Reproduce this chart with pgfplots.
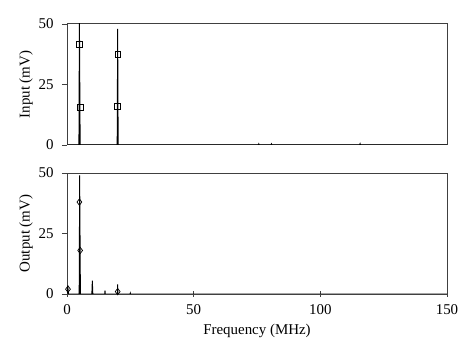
\documentclass[border=0pt]{standalone}
\usepackage{pgfplots}
\pgfplotsset{compat=1.18}
\usepackage{fontspec}
\setmainfont{Liberation Serif}
\begin{document}
\begin{tikzpicture}
\useasboundingbox (0bp,0bp) rectangle (474bp,361bp);
\pgfplotsset{
  myaxis/.style={
    scale only axis, width=380bp, height=121bp,
    xmin=0, xmax=150, ymin=0, ymax=50,
    ytick={0,25,50},
    axis line style={draw=black!75, line width=1pt},
    tick style={draw=black!75, line width=0.8pt},
    ytick align=outside, xtick align=center,
    xtick pos=bottom, ytick pos=left,
    major tick length=5bp,
    font=\fontsize{15}{17}\selectfont,
    /pgf/number format/assume math mode=true,
    yticklabel style={xshift=-5bp},
    xticklabel style={yshift=-5bp},
    ylabel style={at={(ticklabel cs:0.5)}, anchor=south, yshift=-1bp},
    clip=true,
  }
}
\begin{axis}[myaxis, at={(67bp,216bp)}, anchor=south west,
  xtick=\empty, ylabel={Input (mV)}]
\addplot[black, line width=0.9pt, mark=none] coordinates {
(0,0) (4.7,0) (4.9,53) (5.2,0) (19.8,0) (20,48) (20.2,0)
(75.5,0) (75.7,0.5) (75.9,0) (80.5,0) (80.7,0.5) (80.9,0)
(115.5,0) (115.7,0.6) (115.9,0) (150,0)};
\addplot[black, only marks, mark=square, mark size=2.8bp, mark options={fill=white, line width=0.7pt}] coordinates {
(4.9,41.5) (5.2,15.5) (20,37.5) (19.9,16)};
\end{axis}
\begin{axis}[myaxis, at={(67bp,67bp)}, anchor=south west,
  xtick={0,50,100,150}, ylabel={Output (mV)}, xlabel={Frequency (MHz)},
  xlabel style={yshift=-2bp}]
\addplot[black, line width=0.9pt, mark=none] coordinates {
(0,0) (0.3,3.5) (0.6,0) (4.8,0) (5,49) (5.3,0) (9.8,0) (10,5.5) (10.2,0)
(14.9,0) (15,1.5) (15.1,0) (19.9,0) (20,4) (20.1,0) (24.9,0) (25,0.4) (25.1,0) (150,0)};
\addplot[black, only marks, mark=diamond, mark size=3.2bp, mark options={fill=white, line width=0.7pt}] coordinates {
(0.4,2) (4.9,38) (5.2,18) (20,1)};
\end{axis}
\end{tikzpicture}
\end{document}
